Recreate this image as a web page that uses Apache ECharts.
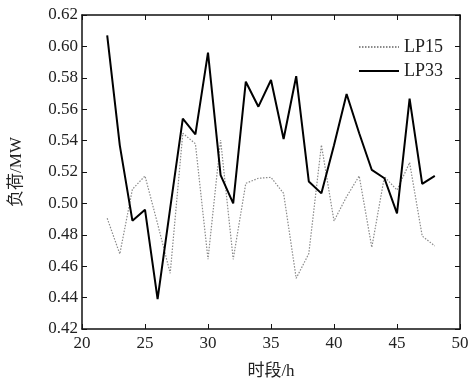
<!DOCTYPE html>
<html><head><meta charset="utf-8">
<script src="https://cdn.jsdelivr.net/npm/echarts@6/dist/echarts.min.js"></script>
<style>html,body{margin:0;padding:0;background:#fff}#c{width:474px;height:386px}</style>
</head><body><div id="c"></div>
<script>
var hours = [22,23,24,25,26,27,28,29,30,31,32,33,34,35,36,37,38,39,40,41,42,43,44,45,46,47,48];
var lp15 = [0.4905,0.4678,0.509,0.5175,0.487,0.4555,0.5447,0.538,0.4644,0.5404,0.4644,0.5128,0.516,0.5166,0.5064,0.4523,0.468,0.5372,0.4888,0.5043,0.5175,0.472,0.517,0.5085,0.526,0.4792,0.4729];
var lp33 = [0.607,0.537,0.489,0.496,0.439,0.497,0.554,0.544,0.596,0.518,0.500,0.5775,0.5616,0.5786,0.541,0.581,0.514,0.5064,0.537,0.5697,0.5447,0.5213,0.516,0.4937,0.5667,0.5124,0.5175];
var xTicks = {min:20, max:50, interval:5};
var yTicks = {min:0.42, max:0.62, interval:0.02};
var fam = '"Liberation Serif","Noto Sans CJK SC",serif';
var chart = echarts.init(document.getElementById('c'));
function pairs(v){return hours.map(function(h,i){return [h,v[i]];});}
var axLine = {show:true, lineStyle:{color:'#111', width:1.5}};
chart.setOption({
  animation:false,
  textStyle:{fontFamily:fam},
  grid:{left:80, right:14, top:15, bottom:57},
  legend:{orient:'vertical', right:26, top:33, itemWidth:40, itemHeight:14, itemGap:6,
    itemStyle:{opacity:0},
    textStyle:{fontFamily:fam, fontSize:18, color:'#222'},
    data:['LP15','LP33']},
  xAxis:[{type:'value', min:xTicks.min, max:xTicks.max, interval:xTicks.interval,
    axisLine:axLine, axisTick:{inside:true, length:5, lineStyle:{color:'#111'}},
    splitLine:{show:false}, axisLabel:{fontFamily:fam, fontSize:17, color:'#222', margin:6},
    name:'时段/h', nameLocation:'middle', nameGap:34, nameTextStyle:{fontFamily:fam, fontSize:17, color:'#222'}},
    {type:'value', position:'top', min:xTicks.min, max:xTicks.max, interval:xTicks.interval,
    axisLine:axLine, axisTick:{inside:true, length:5, lineStyle:{color:'#111'}}, axisLabel:{show:false}, splitLine:{show:false}}],
  yAxis:[{type:'value', min:yTicks.min, max:yTicks.max, interval:yTicks.interval,
    axisLine:axLine, axisTick:{inside:true, length:5, lineStyle:{color:'#111'}},
    splitLine:{show:false}, axisLabel:{fontFamily:fam, fontSize:17, color:'#222', margin:4,
      formatter:function(v){return v.toFixed(2);}},
    name:'负荷/MW', nameLocation:'middle', nameGap:57, nameTextStyle:{fontFamily:fam, fontSize:17, color:'#222'}},
    {type:'value', position:'right', min:yTicks.min, max:yTicks.max, interval:yTicks.interval,
    axisLine:axLine, axisTick:{inside:true, length:5, lineStyle:{color:'#111'}}, axisLabel:{show:false}, splitLine:{show:false}}],
  series:[
    {name:'LP15', type:'line', symbol:'none', data:pairs(lp15), lineStyle:{color:'#8a8a8a', width:1.2, type:[1.5,1.5]}, itemStyle:{color:'#8a8a8a'}},
    {name:'LP33', type:'line', symbol:'none', data:pairs(lp33), lineStyle:{color:'#000', width:2}, itemStyle:{color:'#000'}}
  ]
});
</script></body></html>
